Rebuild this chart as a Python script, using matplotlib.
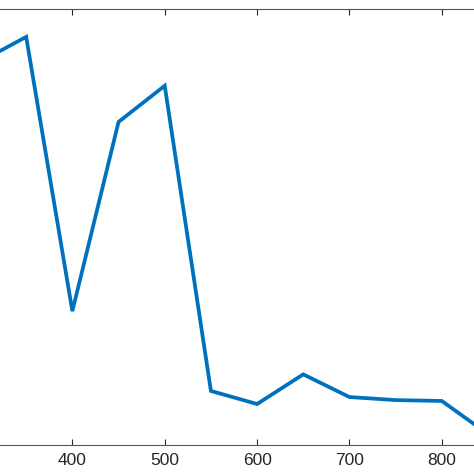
import matplotlib
matplotlib.use('Agg')
import matplotlib.pyplot as plt

# wavelength-like x values and the (unitless) curve
x = [300, 350, 400, 450, 500, 550, 600, 650, 700, 750, 800, 850]
y = [0.879, 0.936, 0.307, 0.741, 0.824, 0.124, 0.094, 0.162, 0.110, 0.103, 0.101, 0.025]
xticks = [400, 500, 600, 700, 800]

plt.rcParams['font.family'] = ['Liberation Sans', 'DejaVu Sans']

fig = plt.figure(figsize=(4.74, 4.74), dpi=100)
# axes run past the figure edges, like the cropped original
ax = fig.add_axes([-20 / 474, 1 - 445 / 474, 508 / 474, 436 / 474])
ax.plot(x, y, color='#0072BD', linewidth=2.7, solid_joinstyle='miter')

ax.set_xlim(300, 850)
ax.set_ylim(0, 1)
ax.set_xticks(xticks)
ax.set_yticks([])
ax.tick_params(axis='x', direction='in', length=4, width=0.8, top=True,
               labelsize=12.5, colors='#262626', pad=6)
for s in ax.spines.values():
    s.set_color('#555555')
    s.set_linewidth(0.8)

fig.savefig('out.png', dpi=100)
